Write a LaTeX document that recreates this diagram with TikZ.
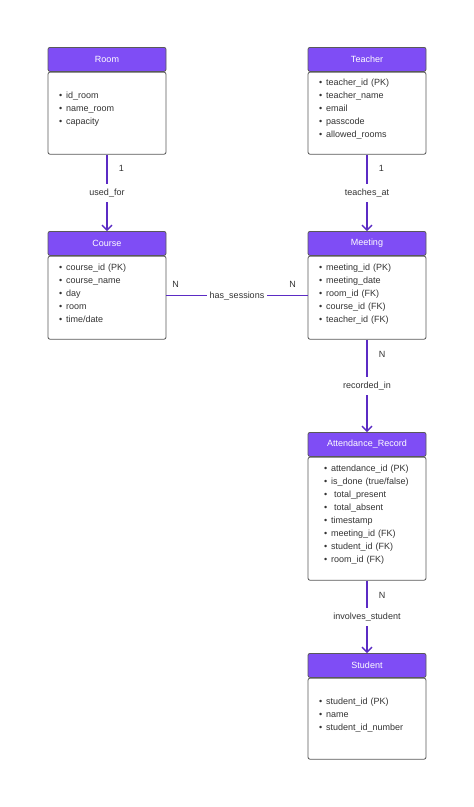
\documentclass[tikz,border=0pt]{standalone}
\usepackage{fontspec}
\setmainfont{Liberation Sans}
\usetikzlibrary{arrows.meta}
\definecolor{hdrpurple}{HTML}{7F4DF5}
\definecolor{linkpurple}{HTML}{5B2BC4}
\definecolor{boxgray}{HTML}{595959}
\definecolor{txtgray}{HTML}{333333}
\newcommand{\itm}[1]{\textbullet\hspace{4pt}#1}
\newcommand{\lastitm}[1]{\itm{#1}\rule[-9pt]{0pt}{9pt}}
\tikzset{
  ehead/.style={draw=boxgray, fill=hdrpurple, text=white, minimum width=118pt, minimum height=24pt,
    anchor=north, rounded corners=2pt, line width=0.8pt, font=\fontsize{9}{11}\selectfont},
  ebody/.style={draw=boxgray, fill=white, minimum width=118pt, text width=96pt, inner xsep=11pt,
    align=left, anchor=north, rounded corners=2pt, line width=0.8pt, text=txtgray,
    font=\fontsize{9}{13}\selectfont},
  link/.style={draw=linkpurple, line width=1.3pt},
  tolink/.style={link, -{Straight Barb[length=5pt,width=10pt]}},
  rel/.style={fill=white, inner xsep=3pt, inner ysep=5pt, text=txtgray, font=\fontsize{9}{11}\selectfont},
  card/.style={text=txtgray, font=\fontsize{9}{11}\selectfont}
}
\begin{document}
\begin{tikzpicture}[x=1pt,y=-1pt]
\useasboundingbox[fill=white] (0,0) rectangle (474,807);
\node[ehead] (room) at (107,47) {Room};
\node[ebody, minimum height=82pt] (roomattr) at (room.south) {\itm{id\_room}\\ \itm{name\_room}\\ \lastitm{capacity}};
\node[ehead] (teacher) at (367,47) {Teacher};
\node[ebody, minimum height=82pt] (teacherattr) at (teacher.south) {\itm{teacher\_id (PK)}\\ \itm{teacher\_name}\\ \itm{email}\\ \itm{passcode}\\ \lastitm{allowed\_rooms}};
\node[ehead] (course) at (107,231) {Course};
\node[ebody, minimum height=83pt] (courseattr) at (course.south) {\itm{course\_id (PK)}\\ \itm{course\_name}\\ \itm{day}\\ \itm{room}\\ \lastitm{time/date}};
\node[ehead] (meeting) at (367,231) {Meeting};
\node[ebody, minimum height=83pt] (meetingattr) at (meeting.south) {\itm{meeting\_id (PK)}\\ \itm{meeting\_date}\\ \itm{room\_id (FK)}\\ \itm{course\_id (FK)}\\ \lastitm{teacher\_id (FK)}};
\node[ehead] (attend) at (367,432) {Attendance\_Record};
\node[ebody, minimum height=123pt, inner xsep=16pt, text width=86pt] (attendattr) at (attend.south) {\itm{attendance\_id (PK)}\\ \itm{is\_done (true/false)}\\ \itm{\ total\_present}\\ \itm{\ total\_absent}\\ \itm{timestamp}\\ \itm{meeting\_id (FK)}\\ \itm{student\_id (FK)}\\ \lastitm{room\_id (FK)}};
\node[ehead] (student) at (367,653) {Student};
\node[ebody, minimum height=81pt] (studentattr) at (student.south) {\itm{student\_id (PK)}\\ \itm{name}\\ \lastitm{student\_id\_number}};
\draw[tolink] (roomattr) -- node[rel] {used\_for} node[card, pos=0.18, right=8pt] {1} (course);
\draw[tolink] (teacherattr) -- node[rel] {teaches\_at} node[card, pos=0.18, right=8pt] {1} (meeting);
\draw[link] ([yshift=2pt]courseattr.east) -- node[rel] {has\_sessions} node[card, pos=0.065, above=4pt] {N} node[card, pos=0.894, above=4pt] {N} ([yshift=2pt]meetingattr.west);
\draw[tolink] (meetingattr) -- node[rel] {recorded\_in} node[card, pos=0.16, right=8pt] {N} (attend);
\draw[tolink] (attendattr) -- node[rel] {involves\_student} node[card, pos=0.21, right=8pt] {N} (student);
\end{tikzpicture}
\end{document}
